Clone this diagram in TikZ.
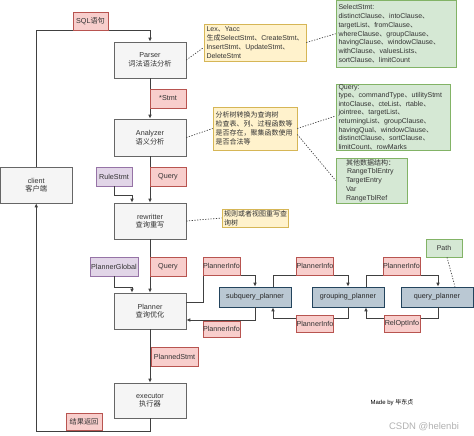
\documentclass[tikz,border=0pt]{standalone}
\usepackage{fontspec}
\setmainfont{Liberation Sans}
\newfontfamily\cjk{Noto Sans CJK SC}
\newcommand\zh[1]{{\cjk #1}}
\usetikzlibrary{arrows.meta,calc}
\definecolor{gfill}{HTML}{F5F5F5}\definecolor{gline}{HTML}{666666}\definecolor{gtext}{HTML}{333333}
\definecolor{pfill}{HTML}{F8CECC}\definecolor{pline}{HTML}{B85450}
\definecolor{ufill}{HTML}{E1D5E7}\definecolor{uline}{HTML}{9673A6}
\definecolor{bfill}{HTML}{BAC8D3}\definecolor{bline}{HTML}{23445D}
\definecolor{nfill}{HTML}{D5E8D4}\definecolor{nline}{HTML}{82B366}
\definecolor{yfill}{HTML}{FFF2CC}\definecolor{yline}{HTML}{D6B656}
\definecolor{lc}{HTML}{404040}
\newcommand\mkbox[7]{%
  \pgfmathsetmacro\mybw{#5-#3}\pgfmathsetmacro\mybh{#6-#4}%
  \pgfmathsetmacro\mybx{(#3+#5)/2}\pgfmathsetmacro\myby{(#4+#6)/2}%
  \node[#2, minimum width=\mybw pt, minimum height=\mybh pt] (#1) at (\mybx,\myby) {#7};}
\newcommand\mknote[8]{% pad, name, style, x1,y1,x2,y2, text
  \pgfmathsetmacro\mybw{#6-#4}\pgfmathsetmacro\mybh{#7-#5}%
  \pgfmathsetmacro\mybx{(#4+#6)/2}\pgfmathsetmacro\myby{(#5+#7)/2}%
  \pgfmathsetmacro\mytw{#6-#4-2*#1}%
  \node[#3, inner xsep=#1pt, text width=\mytw pt, minimum width=\mybw pt, minimum height=\mybh pt] (#2) at (\mybx,\myby) {#8};}
\tikzset{
  base/.style={draw, inner sep=0pt, line width=0.6pt, align=center, text=gtext,
    font=\fontsize{7.2}{8.6}\selectfont},
  gbox/.style={base, fill=gfill, draw=gline},
  plab/.style={base, fill=pfill, draw=pline},
  ulab/.style={base, fill=ufill, draw=uline},
  bbox/.style={base, fill=bfill, draw=bline, text=black!85},
  gnote/.style={base, fill=nfill, draw=nline, align=left, font=\fontsize{7}{8.8}\selectfont},
  ynote/.style={base, fill=yfill, draw=yline, align=left, font=\fontsize{7}{8.8}\selectfont},
  conn/.style={draw=lc, line width=0.8pt},
  arr/.style={conn, -{Latex[length=4pt,width=3.6pt]}},
  dots/.style={draw=lc, line width=0.7pt, dash pattern=on 1.2pt off 1.5pt},
}
\begin{document}
\begin{tikzpicture}[x=1pt,y=-1pt]
\fill[white] (0,0) rectangle (474,436);
\useasboundingbox (0,0) rectangle (474,436);
% main boxes
\mkbox{parser}{gbox}{114}{42}{186}{78}{Parser\\\zh{词法语法分析}}
\mkbox{analyzer}{gbox}{114}{119}{186}{156}{Analyzer\\\zh{语义分析}}
\mkbox{rewriter}{gbox}{114}{203}{186}{239}{rewritter\\\zh{查询重写}}
\mkbox{planner}{gbox}{114}{293}{186}{329}{Planner\\\zh{查询优化}}
\mkbox{executor}{gbox}{114}{383}{186}{418}{executor\\\zh{执行器}}
\mkbox{client}{gbox}{0.5}{167}{72}{203}{client\\\zh{客户端}}
\mkbox{rule}{ulab}{96}{167}{132}{186}{RuleStmt}
\mkbox{pglobal}{ulab}{90}{257}{138}{276}{PlannerGlobal}
\mkbox{subq}{bbox}{219}{287}{291}{307}{subquery\_planner}
\mkbox{group}{bbox}{312}{287}{384}{307}{grouping\_planner}
\mkbox{qp}{bbox}{401}{287}{473}{307}{query\_planner}
\mkbox{path}{gnote,align=center}{426}{239}{462}{257}{Path}
% notes
\mknote{2.5}{sel}{gnote}{336}{0.5}{456}{67}{SelectStmt:\\distinctClause\zh{、}intoClause\zh{、}\\targetList\zh{、}fromClause\zh{、}\\whereClause\zh{、}groupClause\zh{、}\\havingClause\zh{、}windowClause\zh{、}\\withClause\zh{、}valuesLists\zh{、}\\sortClause\zh{、}limitCount}
\mknote{2.5}{querynote}{gnote,font=\fontsize{7}{8.6}\selectfont}{336}{84}{450}{150}{Query:\\type\zh{、}commandType\zh{、}utilityStmt\\intoClause\zh{、}cteList\zh{、}rtable\zh{、}\\jointree\zh{、}targetList\zh{、}\\returningList\zh{、}groupClause\zh{、}\\havingQual\zh{、}windowClause\zh{、}\\distinctClause\zh{、}sortClause\zh{、}\\limitCount\zh{、}rowMarks}
\mknote{10}{other}{gnote}{336}{158}{407}{203}{\zh{其他数据结构：}\\\hspace*{1pt}RangeTblEntry\\TargetEntry\\Var\\RangeTblRef}
\mknote{2.5}{lex}{ynote}{204}{24}{306}{61}{Lex\zh{、}Yacc\\\zh{生成}SelectStmt\zh{、}CreateStmt\zh{、}\\InsertStmt\zh{、}UpdateStmt\zh{、}\\DeleteStmt}
\mknote{2.5}{ananote}{ynote}{213}{107}{297}{150}{\zh{分析树转换为查询树}\\\zh{检查表、列、过程函数等}\\\zh{是否存在，聚集函数使用}\\\zh{是否合法等}}
\mknote{2}{rwnote}{ynote}{222}{209}{288}{227}{\zh{规则或者视图重写查}\\\zh{询树}}
% connectors
\coordinate (c1) at (150,30);
\draw[arr] (client.north) |- (c1) -- (parser.north);
\draw[arr] (parser.south) -- (analyzer.north);
\draw[arr] (analyzer.south) -- (rewriter.north);
\coordinate (r1) at (132,195);
\draw[arr] (rule.south) |- (r1) -- (r1 |- rewriter.north);
\draw[arr] (rewriter.south) -- (planner.north);
\coordinate (g1) at (132,287);
\draw[arr] (pglobal.south) |- (g1) -- (g1 |- planner.north);
\coordinate (p1) at (203,302); \coordinate (p2) at (255,275);
\draw[arr] (p1 -| planner.east) -- (p1) |- (p2) -- (p2 |- subq.north);
\coordinate (s1) at (273,275); \coordinate (s2) at (348,275);
\draw[arr] (s1 |- subq.north) -- (s1) -- (s2) -- (s2 |- group.north);
\coordinate (t1) at (366,275); \coordinate (t2) at (438,275);
\draw[arr] (t1 |- group.north) -- (t1) -- (t2) -- (t2 |- qp.north);
\coordinate (b1) at (438,318); \coordinate (b2) at (366,318);
\draw[arr] (b1 |- qp.south) -- (b1) -- (b2) -- (b2 |- group.south);
\coordinate (b3) at (348,318); \coordinate (b4) at (273,318);
\draw[arr] (b3 |- group.south) -- (b3) -- (b4) -- (b4 |- subq.south);
\coordinate (b5) at (255,320);
\draw[arr] (b5 |- subq.south) -- (b5) -- (b5 -| planner.east);
\draw[arr] (planner.south) -- (executor.north);
\coordinate (e1) at (150,431);
\draw[arr] (executor.south) -- (e1) -| (client.south);
% dotted links
\draw[dots] (parser.east) -- ($(lex.west)+(0,5)$);
\draw[dots] (lex.east) -- (sel.west);
\draw[dots] (analyzer.east) -- (ananote.west);
\draw[dots] (ananote.east) -- ($(querynote.west)+(0,-1)$);
\draw[dots] ($(ananote.east)+(0,6)$) -- (other.west);
\draw[dots] (rewriter.east) -- (rwnote.west);
\draw[dots] ($(path.south)+(3,0)$) -- ($(qp.north)+(18,0)$);
% edge labels
\mkbox{sql}{plab}{73}{12}{108}{30}{SQL\zh{语句}}
\mkbox{stmt}{plab}{150}{89}{186}{108}{*Stmt}
\mkbox{query1}{plab}{150}{167}{186}{186}{Query}
\mkbox{query2}{plab}{150}{257}{186}{276}{Query}
\mkbox{pi1}{plab}{203}{257}{240}{275}{PlannerInfo}
\mkbox{pi2}{plab}{297}{257}{333}{275}{PlannerInfo}
\mkbox{pi3}{plab}{383}{257}{420}{275}{PlannerInfo}
\mkbox{pi4}{plab}{297}{315}{333}{332}{PlannerInfo}
\mkbox{roi}{plab}{384}{315}{420}{332}{RelOptInfo}
\mkbox{pi5}{plab}{203}{321}{240}{337}{PlannerInfo}
\mkbox{planned}{plab}{151}{347}{198}{366}{PlannedStmt}
\mkbox{result}{plab}{66}{413}{102}{430}{\zh{结果返回}}
% texts
\node[font=\fontsize{6}{7}\selectfont, text=black] (madeby) at (392,403) {Made by \zh{毕东贞}};
\node[font=\fontsize{9.5}{11}\selectfont, text=black!30] (csdn) at (424,427) {CSDN @helenbi};
\end{tikzpicture}
\end{document}
